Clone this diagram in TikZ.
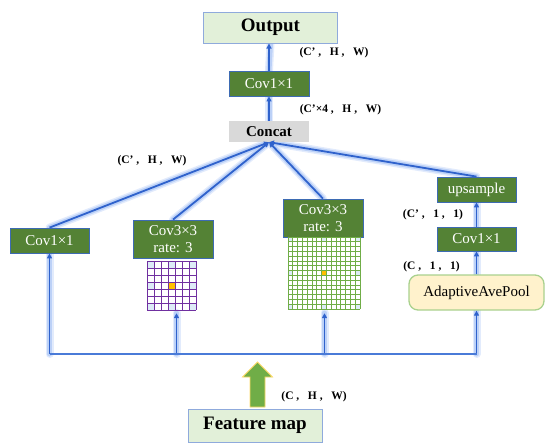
\documentclass[tikz,border=0pt]{standalone}
\usepackage{fontspec}
\setmainfont{Liberation Serif}
\usetikzlibrary{arrows.meta,backgrounds}
\definecolor{dgreen}{HTML}{548235}
\definecolor{bborder}{HTML}{3D6BB3}
\definecolor{lineb}{HTML}{2F62CC}
\definecolor{busb}{HTML}{4A7BD8}
\definecolor{glowa}{HTML}{E2EBFC}
\definecolor{glowb}{HTML}{BCD1F7}
\definecolor{lgreen}{HTML}{E2F0D9}
\definecolor{lborder}{HTML}{8FAADC}
\definecolor{cgray}{HTML}{D9D9D9}
\definecolor{aapfill}{HTML}{FFF2CC}
\definecolor{aapborder}{HTML}{A9D18E}
\definecolor{purp}{HTML}{7030A0}
\definecolor{lbc}{HTML}{DDEBF7}
\definecolor{orc}{HTML}{FFC000}
\definecolor{gridg}{HTML}{70AD47}
\definecolor{arrg}{HTML}{70AD47}
\definecolor{arry}{HTML}{FFD966}
\newcommand\fc{\hspace{0.25em},\hspace{0.75em}}
\begin{document}
\begin{tikzpicture}[x=1pt,y=-1pt,
  gbox/.style={draw=bborder, fill=dgreen, line width=0.8pt, text=white, inner sep=0pt, font=\fontsize{15}{17}\selectfont, align=center},
  lbox/.style={draw=lborder, fill=lgreen, line width=1pt, inner sep=0pt, font=\fontsize{19}{21}\selectfont\bfseries},
  lab/.style={font=\fontsize{11.5}{13}\selectfont\bfseries, inner sep=0pt},
  ga/.style={draw=glowa, line width=8pt, line cap=round},
  gb/.style={draw=glowb, line width=5pt, line cap=round},
  gm/.style={draw=lineb, line width=1.8pt, -{Triangle[length=5pt,width=5pt]}}
]
\useasboundingbox (0,0) rectangle (550,448);

% boxes
\node[lbox, minimum width=134pt, minimum height=31pt] (out) at (270.5,27.5) {Output};
\node[gbox, minimum width=80pt, minimum height=25pt] (covT) at (269,83.5) {Cov1×1};
\node[fill=cgray, inner sep=0pt, minimum width=80pt, minimum height=21pt, font=\fontsize{15}{17}\selectfont\bfseries] (concat) at (269,131.5) {Concat};
\node[gbox, minimum width=79pt, minimum height=25pt] (covL) at (49.5,240.5) {Cov1×1};
\node[gbox, minimum width=80pt, minimum height=38pt] (cov3L) at (173,239) {Cov3×3\\rate: 3};
\node[gbox, minimum width=80pt, minimum height=38pt] (cov3R) at (323,218) {Cov3×3\\rate: 3};
\node[gbox, minimum width=79pt, minimum height=25pt] (up) at (476.5,189.5) {upsample};
\node[gbox, minimum width=79pt, minimum height=24pt] (covR) at (476.5,239) {Cov1×1};
\node[draw=aapborder, fill=aapfill, line width=1.3pt, rounded corners=9pt, inner sep=0pt, minimum width=135pt, minimum height=35pt, font=\fontsize{15}{17}\selectfont] (aap) at (476.5,292.5) {AdaptiveAvePool};
\node[lbox, minimum width=134pt, minimum height=33pt] (fm) at (255,425.5) {Feature map};

% grid placeholders
\node[inner sep=0pt, minimum width=49pt, minimum height=48pt] (gridL) at (171.5,285) {};
\node[inner sep=0pt, minimum width=72pt, minimum height=72pt] (gridR) at (324,273) {};

% left grid 7x7
\foreach \i in {0,3,6}{\foreach \j in {0,3,6}{\fill[lbc] (147+\i*7,261+\j*7) rectangle ++(7,7);}}
\fill[orc] (168,282) rectangle ++(7,7);
\foreach \k in {0,...,7}{
  \draw[purp, line width=0.9pt] (147+\k*7,261) -- ++(0,49);
  \draw[purp, line width=0.9pt] (147,261+\k*7) -- ++(49,0);
}
% right grid 15x15
\foreach \i in {0,7,14}{\foreach \j in {0,7,14}{\fill[lbc] (288+\i*4.8,237+\j*4.8) rectangle ++(4.8,4.8);}}
\fill[orc] (288+7*4.8,237+7*4.8) rectangle ++(4.8,4.8);
\foreach \k in {0,...,15}{
  \draw[gridg, line width=0.8pt] (288+\k*4.8,237) -- ++(0,72);
  \draw[gridg, line width=0.8pt] (288,237+\k*4.8) -- ++(72,0);
}

% labels
\node[lab] (l1) at (334,53) {(C’\fc H\fc W)};
\node[lab] (l2) at (340.5,110) {(C’×4\fc H\fc W)};
\node[lab] (l3) at (152,161) {(C’\fc H\fc W)};
\node[lab] (l4) at (433,215) {(C’\fc 1\fc 1)};
\node[lab] (l5) at (431.5,267) {(C\fc 1\fc 1)};
\node[lab] (l6) at (314,397) {(C\fc H\fc W)};

% bus coordinates
\coordinate (b1) at (49.5,354);
\coordinate (b2) at (176.5,354);
\coordinate (b3) at (324.5,354);
\coordinate (b4) at (476.5,354);

% glow underlay
\begin{pgfonlayer}{background}
\foreach \g in {ga,gb}{
\foreach \p/\q in {covT.north/out.south, concat.north/covT.south,
   covL.north/concat.south, cov3L.north/concat.south, cov3R.north/concat.south,
   up.north/concat.south, covR.north/up.south, aap.north/covR.south,
   b1/covL.south, b4/aap.south}
  \draw[\g] (\p) -- (\q);
\draw[\g] (b2) -- ++(0,-41);
\draw[\g] (b3) -- ++(0,-41);
}
\end{pgfonlayer}

% connectors
\draw[gm] (covT.north) -- (covT.north |- out.south);
\draw[gm] (concat.north) -- (covT.south);
\draw[gm] (covL.north) -- (concat.south);
\draw[gm] (cov3L.north) -- (concat.south);
\draw[gm] (cov3R.north) -- (concat.south);
\draw[gm] (up.north) -- (concat.south);
\draw[gm] (covR.north) -- (up.south);
\draw[gm] (aap.north) -- (covR.south);
\draw[gm] (b1) -- (covL.south);
\draw[gm, shorten >=4pt] (b2) -- (b2 |- gridL.south);
\draw[gm, shorten >=4pt] (b3) -- (b3 |- gridR.south);
\draw[gm] (b4) -- (aap.south);
\draw[draw=busb, line width=1.5pt] (b1) -- (b4);

% big green arrow
\draw[fill=arrg, draw=arry, line width=0.8pt] (250,407) -- (265,407) -- (265,377) -- (272.5,377) -- (257.5,362) -- (242.5,377) -- (250,377) -- cycle;
\end{tikzpicture}
\end{document}
